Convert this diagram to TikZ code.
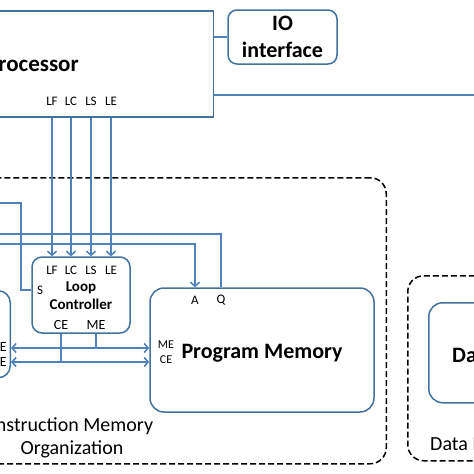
\documentclass[tikz,border=0pt]{standalone}
\usepackage{fontspec}
\setmainfont{Carlito}
\usetikzlibrary{arrows.meta}
\definecolor{wireblue}{HTML}{4F81BD}
\definecolor{boxblue}{HTML}{41719C}
\begin{document}
\begin{tikzpicture}[x=1pt,y=-1pt,
    blk/.style={draw=boxblue, line width=1.5pt, inner sep=0pt},
    wire/.style={draw=wireblue, line width=1.6pt},
    grp/.style={draw=black, line width=1.5pt, dash pattern=on 6pt off 3pt, rounded corners=16pt, inner sep=0pt},
    pin/.style={font=\fontsize{13}{13}\selectfont, inner sep=0pt},
    >={Straight Barb[length=4pt,width=9pt]}]
  \useasboundingbox (0,0) rectangle (474,474);
  \clip (0,0) rectangle (474,474);
  % processor and io
  \node[blk, minimum width=364pt, minimum height=106pt, anchor=north east] (proc) at (214,10) {};
  \node[anchor=east, inner sep=0pt, font=\fontsize{23}{23}\selectfont\bfseries] (proctxt) at (79,64) {Processor};
  \node[blk, rounded corners=9pt, minimum width=109pt, minimum height=54pt, align=center,
        font=\fontsize{22}{27}\selectfont\bfseries] (io) at (282.5,37) {IO\\interface};
  \foreach \n/\t/\x in {plf/LF/51, plc/LC/70, pls/LS/90, ple/LE/110}
    \node[pin] (\n) at (\x+1,101) {\t};
  \draw[wire] (proc.east |- io.west) -- (io.west);
  \coordinate (bus) at (480,95);
  \draw[wire] (proc.east |- bus) -- (bus);
  % instruction memory organization
  \node[grp, minimum width=417pt, minimum height=286pt, anchor=north east] (imo) at (387,177) {};
  \node[align=center, inner sep=0pt, font=\fontsize{20}{23}\selectfont] (imotxt) at (72,438) {Instruction Memory\\Organization};
  \node[blk, rounded corners=10pt, minimum width=98pt, minimum height=76pt] (loop) at (81,295) {};
  \node[align=center, inner sep=0pt, font=\fontsize{15}{18}\selectfont\bfseries] (looptxt) at (81,296) {Loop\\Controller};
  \foreach \n/\t/\x in {llf/LF/51, llc/LC/70, lls/LS/90, lle/LE/110}
    \node[pin] (\n) at (\x+1,270) {\t};
  \node[pin] (ls) at (40,290) {S};
  \node[pin, font=\fontsize{14}{14}\selectfont] (lce) at (61,325) {CE};
  \node[pin, font=\fontsize{14}{14}\selectfont] (lme) at (96,325) {ME};
  \foreach \a/\b in {plf/llf, plc/llc, pls/lls, ple/lle}
    \draw[wire,->] (proc.south -| \a) -- (loop.north -| \b);
  \node[blk, rounded corners=14pt, minimum width=224pt, minimum height=124pt] (pm) at (262,350) {};
  \node[inner sep=0pt, font=\fontsize{22}{22}\selectfont\bfseries] (pmtxt) at (262,353) {Program Memory};
  \node[pin] (pa) at (195,300) {A};
  \node[pin] (pq) at (221,300) {Q};
  \node[pin, font=\fontsize{12}{12}\selectfont] (pme) at (166,345) {ME};
  \node[pin, font=\fontsize{12}{12}\selectfont] (pce) at (166,360) {CE};
  \node[blk, rounded corners=12pt, minimum width=120pt, minimum height=87pt, anchor=north east] (ld) at (11,290) {};
  \node[pin, anchor=east, font=\fontsize{14}{14}\selectfont] (ldme) at (7,347) {ME};
  \node[pin, anchor=east, font=\fontsize{14}{14}\selectfont] (ldce) at (7,362) {CE};
  \coordinate (sin) at (-5,203);
  \coordinate (qin) at (-5,234);
  \coordinate (ain) at (-5,244);
  \draw[wire] (sin) -- (21,203) -- (21,290) -- (loop.west |- ls);
  \draw[wire] (qin) -| (pm.north -| pq);
  \draw[wire,->] (ain) -| (pm.north -| pa);
  \coordinate (mebus) at (0,348);
  \coordinate (cebus) at (0,362);
  \draw[wire,<->] (ld.east |- mebus) -- (pm.west |- mebus);
  \draw[wire,<->] (ld.east |- cebus) -- (pm.west |- cebus);
  \draw[wire] (loop.south -| lme) -- (lme |- mebus);
  \draw[wire] (loop.south -| lce) -- (lce |- cebus);
  % data memory organization
  \node[grp, minimum width=200pt, minimum height=185pt, anchor=north west] (dmo) at (407,275) {};
  \node[blk, rounded corners=14pt, minimum width=200pt, minimum height=100pt, anchor=north west] (dm) at (428,302) {};
  \node[anchor=west, inner sep=0pt, font=\fontsize{22}{22}\selectfont\bfseries] (dmtxt) at (452,357) {Data Memory};
  \node[anchor=west, inner sep=0pt, font=\fontsize{20}{20}\selectfont] (dmotxt) at (430,446) {Data Memory};
\end{tikzpicture}
\end{document}
